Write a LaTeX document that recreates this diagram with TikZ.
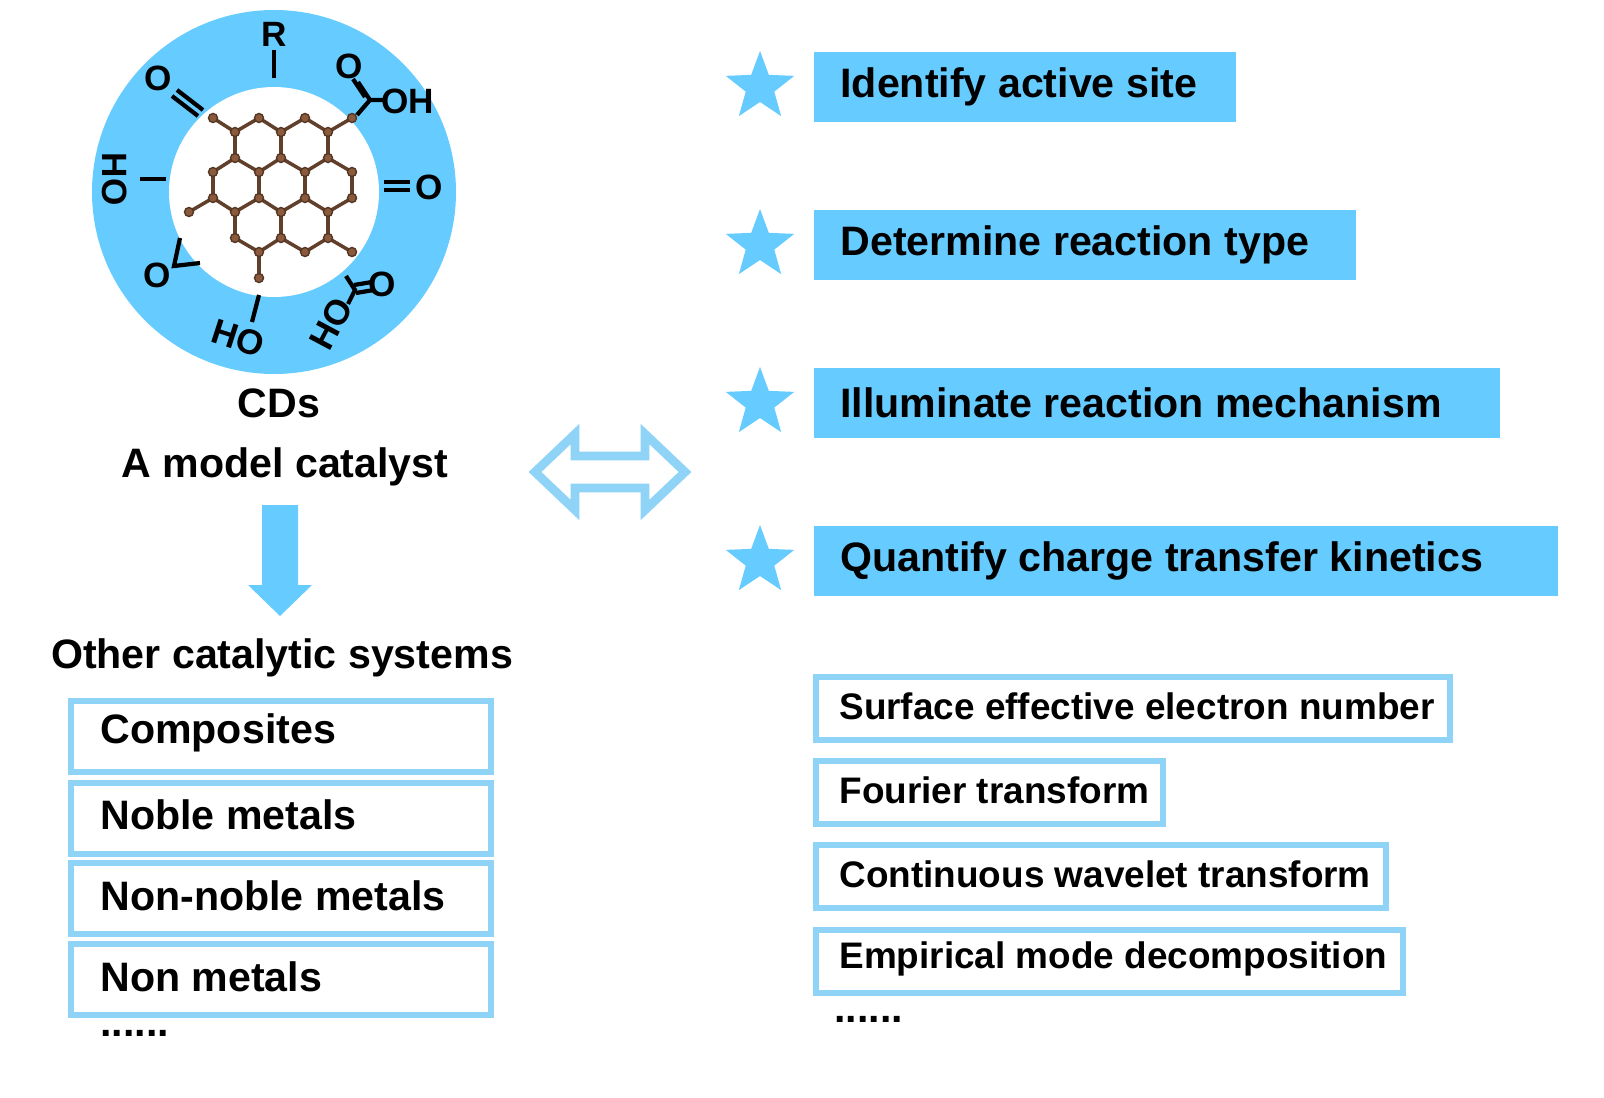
\documentclass[tikz,border=0pt]{standalone}
\usepackage{fontspec}
\setmainfont{Liberation Sans}
\usetikzlibrary{shapes.geometric,positioning}
\definecolor{cdblue}{HTML}{66CCFF}
\definecolor{lineblue}{HTML}{8FD3F7}
\definecolor{atom}{HTML}{8B5A3C}
\tikzstyle{bar} = [rectangle, fill=cdblue, anchor=west, minimum height=0.7cm, inner sep=0pt, text depth=0pt]
\tikzstyle{sysbox} = [rectangle, draw=lineblue, line width=1.6pt, anchor=north west, minimum height=0.71cm, minimum width=4.2cm, inner sep=0pt]
\tikzstyle{methbox} = [rectangle, draw=lineblue, line width=1.6pt, anchor=north west, minimum height=0.63cm, inner sep=0pt]
\tikzstyle{pt} = [circle, fill=atom, draw=atom!60!black, inner sep=0pt, minimum size=0.09cm]
\tikzstyle{txt} = [font=\bfseries\fontsize{11.7}{14}\selectfont]
\tikzstyle{grp} = [font=\bfseries\fontsize{10}{11}\selectfont, inner sep=0pt]
\tikzstyle{bond} = [draw=black, line width=1.2pt]

\begin{document}
\begin{tikzpicture}[x=0.01cm, y=-0.01cm]
        \useasboundingbox (0,0) rectangle (1604,1097);
        % CD particle
        \fill[cdblue] (274,192) circle (182);
        \fill[white] (274,192) circle (105);
        \foreach \n/\x/\y in {a1/213/118, a2/259/118, a3/305/118, a4/352/118,
                b1/235/132, b2/281/132, b3/328/132, c1/235/158, c2/281/158, c3/328/158,
                d1/213/172, d2/259/172, d3/305/172, d4/352/172,
                e1/213/198, e2/259/198, e3/305/198, e4/352/198,
                f0/189/212, f1/235/212, f2/281/212, f3/328/212,
                g1/235/238, g2/281/238, g3/328/238, h1/259/252, h2/305/252, h3/352/252, i1/259/278}
            \coordinate (\n) at (\x,\y);
        \foreach \p/\q in {a1/b1, b1/a2, a2/b2, b2/a3, a3/b3, b3/a4, b1/c1, b2/c2, b3/c3,
                c1/d1, c1/d2, c2/d2, c2/d3, c3/d3, c3/d4, d1/e1, d2/e2, d3/e3, d4/e4,
                e1/f0, e1/f1, e2/f1, e2/f2, e3/f2, e3/f3, e4/f3, f1/g1, f2/g2, f3/g3,
                g1/h1, g2/h1, g2/h2, g3/h2, g3/h3, h1/i1}
            \draw[atom!70!black, line width=1pt] (\p) -- (\q);
        \foreach \n in {a1,a2,a3,a4,b1,b2,b3,c1,c2,c3,d1,d2,d3,d4,e1,e2,e3,e4,f0,f1,f2,f3,g1,g2,g3,h1,h2,h3,i1}
            \node[pt] at (\n) {};
        % functional groups
        \node (R) [grp] at (274,34) {R};
        \path[bond] (274,50) -- (274,78);
        \node (O1) [grp] at (158,78) {O};
        \path[bond] (172,96) -- (198,116) (177,90) -- (203,110);
        \path[bond] (357,115) -- (370,100) -- (385,100);
        \path[bond] (370,100) -- (358,82) (365,97) -- (353,79);
        \node (O2) [grp] at (349,66) {O};
        \node (OH1) [grp] at (408,101) {OH};
        \path[bond] (384,182) -- (410,182) (384,190) -- (410,190);
        \node (O3) [grp] at (429,187) {O};
        \path[bond] (140,179) -- (166,179);
        \node (OH2) [grp, rotate=-90] at (115,179) {HO};
        \path[bond] (180,238) -- (174,266) -- (200,263);
        \node (O4) [grp] at (157,275) {O};
        \path[bond] (259,295) -- (252,322);
        \node (OH3) [grp, rotate=-18] at (238,338) {HO};
        \path[bond] (346,276) -- (355,290) -- (348,304);
        \path[bond] (354,285) -- (372,282) (356,293) -- (374,290);
        \node (O5) [grp] at (382,284) {O};
        \node (OH4) [grp, rotate=62] at (331,324) {HO};
        % labels and arrows
        \node (cds) [txt] at (279,403) {CDs};
        \node (model) [txt] at (285,467) {A model catalyst};
        \fill[cdblue] (262,505) -- (298,505) -- (298,585) -- (312,585) -- (280,616) -- (248,585) -- (262,585) -- cycle;
        \node (other) [txt] at (282,658) {Other catalytic systems};
        \draw[lineblue, line width=2.5pt, line join=miter] (535,472) -- (575,434) -- (575,456) -- (645,456) -- (645,434) -- (685,472)
            -- (645,510) -- (645,488) -- (575,488) -- (575,510) -- cycle;
        % left boxes
        \foreach \t/\y in {Composites/698, Noble metals/780, Non-noble metals/860, Non metals/941}
            \node[sysbox] at (68,\y) {};
        \foreach \t/\y in {Composites/733, Noble metals/815, Non-noble metals/896, Non metals/977}
            \node[txt, anchor=west] at (88,\y) {\t};
        \node (dotsL) [txt, anchor=west] at (88,1033) {......};
        % right bars
        \foreach \t/\w/\y in {Identify active site/422/87, Determine reaction type/542/245,
                Illuminate reaction mechanism/686/403, Quantify charge transfer kinetics/744/561} {
            \node[star, star points=5, star point ratio=2.4, fill=cdblue, minimum size=0.72cm, inner sep=0pt] at (760,\y) {};
            \node[bar, minimum width=\w*0.01cm] at (813,\y) {};
            \node[txt, anchor=west] at (828,\y) {\t};
        }
        \foreach \t/\w/\y in {Surface effective electron number/634/674, Fourier transform/347/758,
                Continuous wavelet transform/570/842, Empirical mode decomposition/587/927} {
            \node[methbox, minimum width=\w*0.01cm] at (813,\y) {};
            \node[font=\bfseries\fontsize{10.5}{12}\selectfont, anchor=west] at (827,\y+32) {\t};
        }
        \node (dotsR) [txt, anchor=west] at (822,1019) {......};
\end{tikzpicture}
\end{document}
